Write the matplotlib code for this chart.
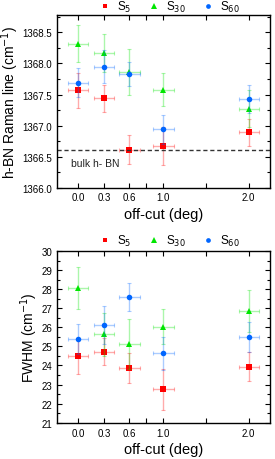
import numpy as np
import matplotlib
matplotlib.use("Agg")
import matplotlib.pyplot as plt
from matplotlib.ticker import MultipleLocator

plt.rcParams['font.family'] = ['Liberation Sans', 'DejaVu Sans']

# off-cut angles (deg)
offcut = [0.0, 0.3, 0.6, 1.0, 2.0]
xerr = 0.12

# h-BN Raman line position (cm-1)
raman_s5 = [1367.57, 1367.44, 1366.61, 1366.67, 1366.89]
raman_s5_err = [0.28, 0.22, 0.23, 0.30, 0.22]
raman_s30 = [1368.32, 1368.17, 1367.87, 1367.58, 1367.27]
raman_s30_err = [0.30, 0.30, 0.37, 0.27, 0.30]
raman_s60 = [1367.69, 1367.95, 1367.83, 1366.94, 1367.43]
raman_s60_err = [0.23, 0.27, 0.20, 0.23, 0.22]
bulk_hbn = 1366.6

# FWHM (cm-1)
fwhm_s5 = [24.5, 24.73, 23.86, 22.74, 23.93]
fwhm_s5_err = [0.95, 0.73, 0.80, 1.05, 0.77]
fwhm_s30 = [28.08, 25.64, 25.12, 26.03, 26.84]
fwhm_s30_err = [1.10, 1.12, 1.30, 0.92, 1.10]
fwhm_s60 = [25.4, 26.1, 27.61, 24.63, 25.5]
fwhm_s60_err = [0.80, 1.00, 0.73, 0.85, 0.77]

series_names = ['S$_5$', 'S$_{30}$', 'S$_{60}$']
colors = ['#ff0000', '#00e600', '#0066ff']
markers = ['s', '^', 'o']

fig = plt.figure(figsize=(2.75, 4.6), dpi=100)
ax1 = fig.add_axes([0.207, 0.59, 0.775, 0.375])
ax2 = fig.add_axes([0.207, 0.079, 0.775, 0.373])


def draw_series(ax, ys, errs, legend_y):
    handles = []
    for y, e, c, m, name in zip(ys, errs, colors, markers, series_names):
        ax.errorbar(offcut, y, yerr=e, xerr=xerr, fmt='none', ecolor=c,
                    alpha=0.33, elinewidth=1.0, capsize=1.5, capthick=0.8)
        h = ax.plot(offcut, y, linestyle='none', marker=m, color=c,
                    markersize=4 if m != '^' else 4.5, markeredgewidth=0,
                    label=name)[0]
        handles.append(h)
    ax.legend(handles=handles, loc='center', bbox_to_anchor=(0.53, legend_y),
              ncol=3, frameon=False, fontsize=8.5, handlelength=0.8,
              handletextpad=0.6, columnspacing=1.5, borderaxespad=0,
              borderpad=0, markerscale=0.85)


def style_axis(ax):
    ax.set_xlim(-0.25, 2.25)
    ax.set_xticks([0.0, 0.3, 0.6, 0.8, 1.0, 1.5, 2.0])
    ax.set_xticklabels(['0.0', '0.3', '0.6', '', '1.0', '', '2.0'])
    ax.tick_params(which='both', direction='in', top=True, right=True,
                   labelsize=7, width=0.8)
    ax.tick_params(which='major', length=3.5)
    ax.tick_params(which='minor', length=2)
    for s in ax.spines.values():
        s.set_linewidth(1.0)
    ax.set_xlabel('off-cut (deg)', fontsize=10.5, labelpad=3)


draw_series(ax1, [raman_s5, raman_s30, raman_s60],
            [raman_s5_err, raman_s30_err, raman_s60_err], 1.048)
ax1.axhline(bulk_hbn, color='#333333', linestyle=(0, (3, 2)), linewidth=1.0)
ax1.text(-0.09, 1366.4, 'bulk h- BN', fontsize=7.5, va='center', color='#222222')
style_axis(ax1)
ax1.set_ylim(1366.0, 1368.78)
ax1.yaxis.set_major_locator(MultipleLocator(0.5))
ax1.yaxis.set_minor_locator(MultipleLocator(0.25))
ax1.yaxis.set_major_formatter(matplotlib.ticker.FormatStrFormatter('%.1f'))
ax1.set_ylabel('h-BN Raman line (cm$^{-1}$)', fontsize=10, labelpad=1)

draw_series(ax2, [fwhm_s5, fwhm_s30, fwhm_s60],
            [fwhm_s5_err, fwhm_s30_err, fwhm_s60_err], 1.062)
style_axis(ax2)
ax2.set_ylim(21, 30)
ax2.yaxis.set_major_locator(MultipleLocator(1))
ax2.yaxis.set_minor_locator(MultipleLocator(0.5))
ax2.set_ylabel('FWHM (cm$^{-1}$)', fontsize=10, labelpad=1)

fig.savefig('out.png', dpi=100)
